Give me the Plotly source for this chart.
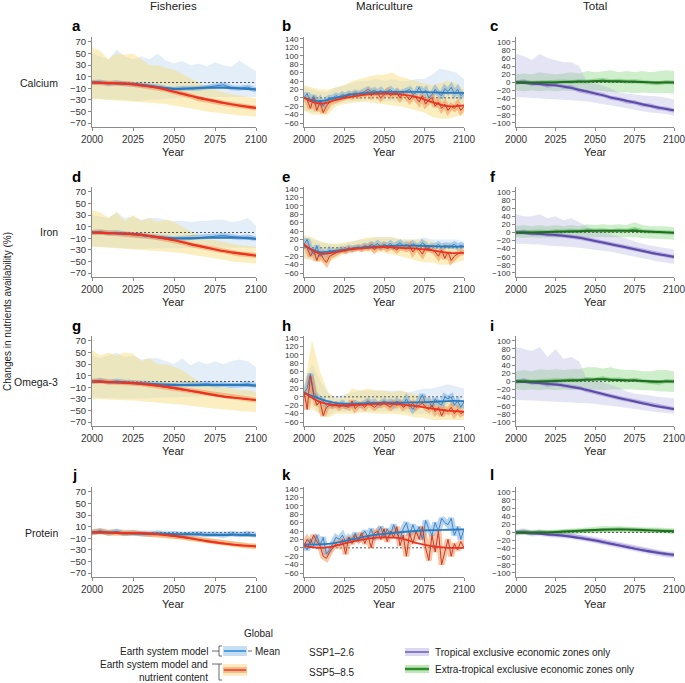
import plotly.graph_objects as go

W, H = 685, 683
FONT = "Liberation Sans, Arial, sans-serif"

YEARS_5 = list(range(2000, 2101, 5))
YEARS_10 = list(range(2000, 2101, 10))
YEARS_2 = list(range(2000, 2101, 2))

COL_TITLES = ["Fisheries", "Mariculture", "Total"]
ROW_LABELS = ["Calcium", "Iron", "Omega-3", "Protein"]
PANEL_LETTERS = ["a", "b", "c", "d", "e", "f", "g", "h", "i", "j", "k", "l"]
X_TICKS = [2000, 2025, 2050, 2075, 2100]
Y_TICKS = [list(range(-70, 71, 20)), list(range(-60, 141, 20)), list(range(-100, 101, 20))]
Y_TITLE = "Changes in nutrients availability (%)"

# ---------------- Fisheries (5-year annual samples, 10-year smooth) ----------------
A_S1_ANN = [0, 1, -2, 0, -2, -3, -3, -5, -7, -10, -12, -10, -11, -10, -8, -7, -4, -9, -10, -8, -13]
A_S1_SM = [0, -1, -2, -4, -8, -11, -10, -9, -9, -10, -12]
A_S2_ANN = [0, 0, -1, -2, -2, -3, -5, -7, -9, -12, -16, -19, -23, -28, -31, -33, -36, -38, -40, -42, -44]
A_S2_SM = [0, -1, -2, -5, -9, -16, -23, -29, -35, -40, -44]
A_S1_HI = [50, 45, 40, 57, 45, 40, 45, 40, 50, 38, 33, 37, 30, 33, 28, 35, 30, 27, 38, 28, 20]
A_S1_LO = [-28, -28, -30, -30, -30, -32, -32, -30, -30, -28, -28, -27, -26, -25, -25, -25, -25, -24, -24, -24, -25]
A_S2_HI = [60, 55, 40, 50, 48, 50, 40, 30, 30, 25, 22, 15, 8, 0, -8, -13, -17, -20, -23, -25, -27]
A_S2_LO = [-28, -29, -30, -31, -32, -32, -33, -34, -35, -37, -40, -42, -45, -47, -50, -52, -54, -55, -57, -58, -59]

D_S1_ANN = [0, 1, -1, 0, -2, -3, -4, -6, -8, -9, -11, -10, -10, -9, -8, -6, -5, -7, -9, -8, -11]
D_S1_SM = [0, -1, -2, -4, -8, -10, -10, -9, -9, -9, -11]
D_S2_ANN = [0, 1, -1, -2, -2, -3, -5, -7, -9, -11, -14, -17, -21, -24, -27, -30, -32, -35, -37, -38, -40]
D_S2_SM = [0, -1, -2, -4, -8, -13, -20, -26, -32, -36, -40]
D_S1_HI = [30, 28, 25, 35, 25, 28, 22, 25, 25, 22, 20, 20, 18, 20, 20, 22, 22, 18, 20, 25, 12]
D_S1_LO = [-24, -25, -26, -27, -27, -28, -28, -28, -28, -27, -27, -27, -27, -26, -26, -26, -26, -26, -26, -27, -27]
D_S2_HI = [38, 35, 25, 35, 20, 30, 20, 25, 18, 22, 18, 10, 2, -5, -10, -13, -17, -20, -22, -23, -25]
D_S2_LO = [-24, -25, -26, -27, -28, -29, -29, -30, -31, -32, -34, -36, -38, -40, -42, -45, -47, -50, -51, -53, -54]

G_S1_ANN = [0, 2, -1, 1, -1, -2, -3, -4, -5, -6, -7, -5, -6, -5, -4, -6, -5, -7, -6, -4, -7]
G_S1_SM = [0, -1, -2, -3, -5, -6, -6, -6, -6, -6, -7]
G_S2_ANN = [0, 1, -1, -1, -2, -3, -4, -6, -8, -10, -12, -14, -17, -19, -22, -24, -26, -28, -29, -31, -32]
G_S2_SM = [0, -1, -2, -4, -7, -11, -16, -21, -26, -29, -32]
G_S1_HI = [45, 40, 45, 50, 42, 45, 38, 40, 40, 35, 30, 40, 28, 35, 30, 35, 30, 35, 38, 35, 25]
G_S1_LO = [-28, -28, -29, -29, -30, -30, -30, -29, -28, -28, -27, -27, -27, -26, -26, -26, -25, -25, -25, -26, -26]
G_S2_HI = [55, 45, 50, 45, 50, 48, 35, 40, 30, 30, 25, 20, 10, 0, -5, -8, -10, -12, -15, -15, -18]
G_S2_LO = [-30, -30, -31, -32, -32, -33, -34, -35, -36, -37, -38, -40, -42, -44, -45, -47, -48, -50, -51, -52, -53]

J_S1_ANN = [0, 3, -1, 2, -2, 0, -2, -3, -1, -3, -2, -4, -3, -2, -4, -3, -5, -2, -4, -2, -5]
J_S1_SM = [0, 0, -1, -2, -2, -3, -3, -4, -4, -4, -5]
J_S2_ANN = [0, 2, -1, 0, -1, -1, -2, -2, -3, -5, -6, -8, -10, -12, -15, -17, -19, -21, -22, -23, -24]
J_S2_SM = [0, 0, -1, -1, -3, -6, -10, -15, -19, -22, -24]
J_S1_HI = [6, 8, 6, 7, 5, 5, 5, 5, 4, 3, 3, 3, 3, 3, 3, 3, 3, 3, 3, 3, 2]
J_S1_LO = [-5, -4, -5, -4, -6, -5, -6, -7, -6, -7, -7, -8, -7, -7, -8, -7, -8, -7, -8, -7, -8]
J_S2_HI = [6, 7, 5, 6, 4, 4, 2, 2, 1, 0, -2, -4, -6, -8, -10, -12, -14, -16, -17, -18, -19]
J_S2_LO = [-5, -4, -5, -5, -6, -6, -7, -7, -8, -10, -11, -13, -15, -17, -20, -22, -24, -26, -27, -28, -29]

# ---------------- Mariculture (2-year annual samples) ----------------
B_S1_ANN = [0, 10, -10, 5, -15, -5, -20, -5, 0, 0, 5, 2, 8, 5, 10, 8, 12, 10, 12, 15, 20, 15, 18, 12, 18, 10,
            15, 20, 12, 16, 10, 14, 18, 20, 8, 12, 25, 10, 18, 0, 8, 20, 10, 5, 22, 15, 25, 10, 20, 5, 12]
B_S2_ANN = [0, -5, -25, 0, -30, -10, -35, -20, -10, -8, -5, -3, 0, 2, 5, 3, 8, 5, 10, 8, 15, 5, 12, 10, 0, 8,
            15, 5, 10, 12, 0, 10, 5, -5, 5, 0, -10, 5, -15, -5, 0, -20, -10, -25, -15, -30, -20, -25, -15, -30, -20]
B_S1_SM = [0, -8, 0, 8, 12, 14, 14, 14, 13, 12, 12]
B_S2_SM = [0, -14, -5, 3, 8, 10, 8, 2, -10, -20, -18]
B_S1_HI = [25, 20, 15, 15, 25, 30, 35, 40, 40, 45, 40, 45, 40, 40, 45, 45, 55, 70, 65, 60, 45]
B_S1_LO = [-30, -35, -35, -30, -15, -10, -8, -8, -5, -5, -8, -8, -10, -10, -12, -15, -20, -25, -30, -30, -25]
B_S2_HI = [30, 25, 20, 20, 25, 30, 40, 45, 50, 55, 55, 60, 50, 45, 40, 35, 30, 35, 40, 35, 20]
B_S2_LO = [-30, -40, -40, -40, -20, -15, -12, -10, -10, -12, -15, -18, -20, -25, -30, -35, -45, -50, -50, -45, -40]

E_S1_ANN = [8, 20, -5, -15, 5, -20, -10, -15, -5, -10, -8, -5, -3, -5, 0, -2, 0, 2, 0, 5, 3, 8, 5, 10, 3, 8,
            5, 10, 3, 8, 12, 5, 8, 2, 10, 5, 3, 12, 5, 0, 5, 3, 8, 2, 6, 4, 5, 8, 2, 6, 3]
E_S2_ANN = [8, 0, -20, -5, -30, -10, -25, -35, -20, -15, -12, -8, -5, -8, -3, -5, -2, 0, -3, 2, 0, 5, -5, 3, 0, 5,
            -2, 3, 0, -5, 2, 0, -3, 5, -10, 0, -5, -15, 0, -2, -5, -10, -20, -5, -25, -10, -30, -20, -15, -10, -12]
E_S1_SM = [5, -10, -7, -2, 2, 4, 5, 5, 4, 3, 3]
E_S2_SM = [8, -14, -10, -3, 0, 2, 0, -2, -6, -12, -12]
E_S1_HI = [25, 20, 15, 10, 8, 10, 15, 20, 20, 25, 25, 25, 20, 20, 20, 25, 20, 20, 20, 20, 15]
E_S1_LO = [-25, -30, -30, -30, -20, -12, -8, -5, -5, -5, -5, -5, -5, -8, -8, -10, -12, -15, -15, -15, -15]
E_S2_HI = [30, 25, 15, 10, 10, 12, 15, 20, 25, 25, 25, 25, 20, 20, 20, 20, 15, 10, 10, 5, 0]
E_S2_LO = [-25, -30, -35, -35, -25, -15, -10, -8, -10, -10, -12, -15, -20, -25, -30, -35, -35, -40, -40, -35, -30]

H_S1_ANN = [10, 20, 55, 10, 0, -5, -10, -20, -15, -20, -18, -20, -15, -22, -18, -20, -15, -18, -20, -15, -10, -15,
            -12, -20, -15, -10, -15, -12, -20, -10, -15, -18, -5, -20, -30, -20, -10, 5, -15, -10, -25, -5, -15,
            -20, 0, -5, 0, -20, -10, -25, -12]
H_S2_ANN = [12, -30, 50, 5, -20, -10, -45, -25, -20, -22, -18, -25, -20, -22, -25, -10, -28, -20, -18, -25, -15,
            -20, -25, -18, -20, -15, -20, -25, -15, -20, -15, -25, -20, -22, -15, -25, -20, -15, -25, -30, -20, -35,
            -25, -45, -30, -35, -25, -40, -30, -40, -35]
H_S1_SM = [10, -5, -15, -17, -15, -14, -14, -13, -12, -10, -10]
H_S2_SM = [10, -12, -20, -20, -18, -16, -18, -22, -28, -33, -35]
H_S1_HI = [30, 80, 40, 10, 0, 5, 10, 15, 15, 15, 15, 15, 15, 10, 15, 20, 20, 25, 30, 25, 20]
H_S1_LO = [-10, -20, -40, -45, -35, -35, -35, -35, -35, -35, -35, -35, -35, -38, -40, -40, -45, -45, -45, -45, -45]
H_S2_HI = [20, 135, 60, 10, -5, 0, 20, 15, 20, 15, 15, 10, 15, 10, 5, 0, -5, -10, -5, -10, -15]
H_S2_LO = [-10, -30, -40, -50, -40, -40, -40, -38, -38, -40, -40, -40, -42, -45, -50, -50, -55, -55, -55, -55, -55]

K_S1_ANN = [10, -5, 20, 5, 30, 5, 25, -15, -5, 10, 25, 20, 30, 15, 25, 20, 35, 15, 30, 40, 25, 45, 20, 35, 50,
            25, 45, 30, 55, 35, 20, 45, 60, 30, 55, 35, 50, 20, 65, 45, 30, 60, 40, 70, 60, 55, 70, 30, 50, 20, 45]
K_S2_ANN = [5, 20, 10, 30, 15, 5, -20, -25, -10, 0, 10, 5, 20, -15, 25, 10, 30, 20, 35, 10, 30, 0, 35, 40, 20,
            45, 15, 40, 25, 50, 5, 30, -20, 35, 10, 40, 20, 50, 0, -30, 30, -10, 40, -40, -10, 20, -20, 10, -5, 15, 0]
K_S1_SM = [8, 8, 12, 20, 28, 33, 37, 40, 42, 43, 44]
K_S2_SM = [5, 0, 5, 15, 22, 25, 23, 12, 4, 0, 0]

# ---------------- Total (tropical = S1 purple, extra-tropical = S2 green) ----------------
C_S1_ANN = [0, 3, -4, -2, -8, -5, -11, -12, -20, -23, -28, -31, -38, -41, -47, -49, -55, -57, -63, -65, -70]
C_S1_SM = [0, -3, -6, -10, -18, -27, -37, -45, -54, -62, -69]
C_S2_ANN = [0, 1, -1, 0, 1, 0, 2, 1, 3, 2, 4, 6, 3, 4, 2, 3, 1, -1, -2, 1, 0]
C_S2_SM = [0, 0, 0, 1, 2, 3, 3, 2, 1, 0, 0]
C_S1_HI = [70, 65, 55, 70, 60, 55, 50, 50, 40, 0, -3, -8, -15, -25, -28, -30, -32, -33, -35, -38, -42]
C_S1_LO = [-36, -37, -38, -39, -40, -42, -43, -44, -45, -47, -50, -53, -56, -60, -64, -68, -71, -74, -76, -78, -82]
C_S2_HI = [20, 22, 20, 25, 22, 20, 22, 25, 22, 28, 25, 28, 30, 25, 28, 25, 28, 25, 28, 30, 28]
C_S2_LO = [-20, -22, -20, -22, -20, -22, -20, -22, -20, -22, -20, -22, -24, -25, -24, -26, -25, -26, -27, -26, -28]

F_S1_ANN = [0, 2, -3, -2, -6, -5, -8, -10, -13, -17, -21, -25, -29, -33, -37, -41, -46, -50, -54, -57, -61]
F_S1_SM = [0, -3, -5, -8, -13, -21, -29, -37, -46, -54, -60]
F_S2_ANN = [0, 1, 0, 2, 1, 3, 2, 4, 3, 6, 4, 5, 3, 5, 4, 8, 3, 2, 1, 0, -1]
F_S2_SM = [0, 0, 1, 2, 3, 4, 4, 4, 3, 1, -1]
F_S1_HI = [45, 40, 40, 45, 35, 40, 30, 35, 25, 15, 5, 0, -5, -10, -15, -22, -28, -32, -35, -38, -42]
F_S1_LO = [-28, -28, -30, -30, -32, -33, -35, -36, -38, -40, -42, -45, -48, -52, -56, -60, -65, -68, -72, -75, -78]
F_S2_HI = [15, 18, 15, 18, 15, 18, 15, 18, 15, 20, 18, 20, 18, 20, 18, 25, 18, 15, 15, 15, 12]
F_S2_LO = [-12, -14, -12, -14, -12, -14, -12, -14, -12, -12, -12, -12, -12, -12, -12, -12, -14, -15, -16, -17, -18]

I_S1_ANN = [0, 3, -3, -2, -8, -6, -10, -13, -16, -22, -26, -31, -36, -41, -45, -50, -54, -58, -62, -65, -68]
I_S1_SM = [0, -3, -6, -10, -17, -26, -36, -45, -54, -62, -68]
I_S2_ANN = [0, 1, -1, 1, 2, 3, 2, 4, 3, 6, 5, 8, 4, 5, 2, 4, 1, -2, -3, 1, 0]
I_S2_SM = [0, 0, 0, 2, 3, 5, 4, 3, 1, 0, 0]
I_S1_HI = [85, 80, 75, 85, 60, 80, 55, 60, 50, 5, 0, -3, -8, -15, -25, -30, -32, -35, -38, -40, -42]
I_S1_LO = [-45, -46, -47, -48, -48, -50, -50, -52, -52, -54, -55, -58, -60, -63, -65, -68, -71, -74, -76, -78, -80]
I_S2_HI = [25, 28, 25, 30, 28, 30, 28, 30, 30, 35, 35, 32, 35, 30, 28, 28, 25, 25, 28, 28, 25]
I_S2_LO = [-20, -22, -20, -22, -20, -22, -20, -22, -20, -20, -20, -22, -20, -20, -20, -20, -22, -22, -24, -25, -26]

L_S1_ANN = [0, 2, -2, -1, -4, -5, -7, -9, -12, -16, -19, -23, -27, -32, -36, -40, -44, -48, -51, -54, -56]
L_S1_SM = [0, -2, -5, -8, -14, -20, -28, -36, -44, -50, -55]
L_S2_ANN = [0, 1, -1, 1, 0, 1, 2, 3, 4, 5, 6, 8, 7, 8, 7, 6, 6, 5, 5, 4, 3]
L_S2_SM = [0, 0, 0, 2, 4, 6, 7, 7, 6, 4, 3]
L_S1_HI = [8, 10, 6, 7, 4, 3, 1, -1, -4, -8, -11, -15, -19, -24, -28, -32, -36, -40, -43, -46, -48]
L_S1_LO = [-8, -6, -10, -9, -12, -13, -15, -17, -20, -24, -27, -31, -35, -40, -44, -48, -52, -56, -59, -62, -64]
L_S2_HI = [6, 7, 5, 7, 6, 7, 8, 9, 10, 12, 14, 16, 15, 16, 14, 13, 13, 12, 12, 11, 10]
L_S2_LO = [-6, -5, -7, -5, -6, -5, -4, -3, -2, -2, -2, 0, -1, 0, 0, -1, -1, -2, -2, -3, -4]

# ---------------- styles ----------------
STY = {
    "fish": dict(b1="rgba(190,214,240,0.42)", b2="rgba(246,220,120,0.45)",
                 i1="rgba(100,160,220,0.45)", i2="rgba(245,140,70,0.50)",
                 a1="#3b87c9", a2="#d8402e", s1="#2b7bc0", s2="#ec3323", iw=5, sw=2.2, band_order=(1, 2)),
    "mari": dict(b1="rgba(190,214,240,0.42)", b2="rgba(246,220,120,0.45)",
                 i1="rgba(100,160,220,0.45)", i2="rgba(245,140,70,0.50)",
                 a1="#3b87c9", a2="#c9362f", s1="#2b7bc0", s2="#ec3323", iw=6, sw=1.8, band_order=(1, 2)),
    "total": dict(b1="rgba(175,170,222,0.32)", b2="rgba(140,215,130,0.42)",
                  i1="rgba(125,110,200,0.45)", i2="rgba(70,170,70,0.40)",
                  a1="#7a68c0", a2="#3a9a3a", s1="#5e4aa8", s2="#1f6e1f", iw=4, sw=2.0, band_order=(2, 1)),
}

PANELS = [
    # (kind, annual x, s1 ann, s2 ann, s1 smooth, s2 smooth, s1 lo, s1 hi, s2 lo, s2 hi)
    ("fish", YEARS_5, A_S1_ANN, A_S2_ANN, A_S1_SM, A_S2_SM, A_S1_LO, A_S1_HI, A_S2_LO, A_S2_HI),
    ("mari", YEARS_2, B_S1_ANN, B_S2_ANN, B_S1_SM, B_S2_SM, B_S1_LO, B_S1_HI, B_S2_LO, B_S2_HI),
    ("total", YEARS_5, C_S1_ANN, C_S2_ANN, C_S1_SM, C_S2_SM, C_S1_LO, C_S1_HI, C_S2_LO, C_S2_HI),
    ("fish", YEARS_5, D_S1_ANN, D_S2_ANN, D_S1_SM, D_S2_SM, D_S1_LO, D_S1_HI, D_S2_LO, D_S2_HI),
    ("mari", YEARS_2, E_S1_ANN, E_S2_ANN, E_S1_SM, E_S2_SM, E_S1_LO, E_S1_HI, E_S2_LO, E_S2_HI),
    ("total", YEARS_5, F_S1_ANN, F_S2_ANN, F_S1_SM, F_S2_SM, F_S1_LO, F_S1_HI, F_S2_LO, F_S2_HI),
    ("fish", YEARS_5, G_S1_ANN, G_S2_ANN, G_S1_SM, G_S2_SM, G_S1_LO, G_S1_HI, G_S2_LO, G_S2_HI),
    ("mari", YEARS_2, H_S1_ANN, H_S2_ANN, H_S1_SM, H_S2_SM, H_S1_LO, H_S1_HI, H_S2_LO, H_S2_HI),
    ("total", YEARS_5, I_S1_ANN, I_S2_ANN, I_S1_SM, I_S2_SM, I_S1_LO, I_S1_HI, I_S2_LO, I_S2_HI),
    ("fish", YEARS_5, J_S1_ANN, J_S2_ANN, J_S1_SM, J_S2_SM, J_S1_LO, J_S1_HI, J_S2_LO, J_S2_HI),
    ("mari", YEARS_2, K_S1_ANN, K_S2_ANN, K_S1_SM, K_S2_SM, None, None, None, None),
    ("total", YEARS_5, L_S1_ANN, L_S2_ANN, L_S1_SM, L_S2_SM, L_S1_LO, L_S1_HI, L_S2_LO, L_S2_HI),
]

# ---------------- geometry (pixels) ----------------
COL_X = [(92, 256), (304, 464), (516, 674)]
ROW_OFF = [0, 150, 299, 450]
PLOT_TOP, PLOT_BOT = 37, 127
Y_RANGES = [(-76.9, 78.6), (-69.4, 144.7), (-110, 112)]
Y_TICK_SIZE = [9.5, 8, 8]


def fx(p):
    return p / W


def fy(p):
    return 1 - p / H


fig = go.Figure()
layout = dict(width=W, height=H, margin=dict(l=0, r=0, t=0, b=0, autoexpand=False),
              paper_bgcolor="white", plot_bgcolor="white", showlegend=False,
              font=dict(family=FONT, color="#222"))

for idx, (kind, xa, s1a, s2a, s1s, s2s, s1lo, s1hi, s2lo, s2hi) in enumerate(PANELS):
    r, c = divmod(idx, 3)
    n = idx + 1
    xk = "xaxis" if n == 1 else f"xaxis{n}"
    yk = "yaxis" if n == 1 else f"yaxis{n}"
    xr = "x" if n == 1 else f"x{n}"
    yr = "y" if n == 1 else f"y{n}"
    top = PLOT_TOP + ROW_OFF[r]
    bot = PLOT_BOT + ROW_OFF[r]
    layout[xk] = dict(domain=[fx(COL_X[c][0]), fx(COL_X[c][1])], anchor=yr, automargin=False,
                      range=[X_TICKS[0], X_TICKS[-1]], tickvals=X_TICKS, ticklabeloverflow="allow",
                      ticks="outside", ticklen=3, tickcolor="#8a8a8a", showline=True,
                      linecolor="#8a8a8a", linewidth=1, showgrid=False, zeroline=False,
                      tickfont=dict(size=10, color="#333", family=FONT))
    layout[yk] = dict(domain=[fy(bot), fy(top)], anchor=xr, range=list(Y_RANGES[c]), automargin=False,
                      tickvals=Y_TICKS[c], ticks="outside", ticklen=3, tickcolor="#8a8a8a",
                      ticklabeloverflow="allow",
                      showline=True, linecolor="#8a8a8a", linewidth=1, showgrid=False,
                      zeroline=False, tickfont=dict(size=Y_TICK_SIZE[c], color="#333", family=FONT))
    st = STY[kind]
    common = dict(xaxis=xr, yaxis=yr, hoverinfo="skip", showlegend=False)

    def band(lo, hi, color):
        fig.add_trace(go.Scatter(x=YEARS_5, y=lo, mode="lines", line=dict(width=0), **common))
        fig.add_trace(go.Scatter(x=YEARS_5, y=hi, mode="lines", line=dict(width=0),
                                 fill="tonexty", fillcolor=color, **common))

    if s1lo is not None:
        bands = {1: (s1lo, s1hi, st["b1"]), 2: (s2lo, s2hi, st["b2"])}
        for k in st["band_order"]:
            band(*bands[k])
    # zero reference line
    fig.add_trace(go.Scatter(x=[X_TICKS[0], X_TICKS[-1]], y=[0, 0], mode="lines",
                             line=dict(color="#555", width=1, dash="2px,2px"), **common))
    # model-range envelopes around the annual means
    fig.add_trace(go.Scatter(x=xa, y=s1a, mode="lines", line=dict(color=st["i1"], width=st["iw"]), **common))
    fig.add_trace(go.Scatter(x=xa, y=s2a, mode="lines", line=dict(color=st["i2"], width=st["iw"]), **common))
    # annual means
    fig.add_trace(go.Scatter(x=xa, y=s1a, mode="lines", line=dict(color=st["a1"], width=1), **common))
    fig.add_trace(go.Scatter(x=xa, y=s2a, mode="lines", line=dict(color=st["a2"], width=1), **common))
    # smoothed trends
    fig.add_trace(go.Scatter(x=YEARS_10, y=s1s, mode="lines",
                             line=dict(color=st["s1"], width=st["sw"], shape="spline", smoothing=1.0), **common))
    fig.add_trace(go.Scatter(x=YEARS_10, y=s2s, mode="lines",
                             line=dict(color=st["s2"], width=st["sw"], shape="spline", smoothing=1.0), **common))

annotations = []
shapes = []


def text(x, y, s, size=10.5, anchor="center", color="#222", bold=False, angle=0):
    annotations.append(dict(x=fx(x), y=fy(y), xref="paper", yref="paper", text=f"<b>{s}</b>" if bold else s,
                            showarrow=False, xanchor=anchor, yanchor="middle", textangle=angle,
                            font=dict(size=size, color=color, family=FONT)))


# column titles
for c, t in enumerate(COL_TITLES):
    text((COL_X[c][0] + COL_X[c][1]) / 2, 6, t, size=11.5)
# panel letters
LETTER_X = [70, 280, 488]
LETTER_Y = [25, 176, 325, 474]
for idx, letter in enumerate(PANEL_LETTERS):
    r, c = divmod(idx, 3)
    text(LETTER_X[c], LETTER_Y[r], letter, size=15, anchor="left", color="#000", bold=True)
# row labels
for r, lab in enumerate(ROW_LABELS):
    text(60, 82.5 + ROW_OFF[r], lab, size=10.5, anchor="right")
# x titles
for r in range(4):
    for c in range(3):
        text((COL_X[c][0] + COL_X[c][1]) / 2, 152 + ROW_OFF[r] + (2 if r == 3 else 0), "Year", size=11)
# y title
text(7, 312, Y_TITLE, size=10, angle=-90)

# ---------------- legend ----------------
text(258, 633, "Global", size=10)
text(210, 651, "Earth system model", size=10, anchor="right")
text(210, 664, "Earth system model and", size=10, anchor="right")
text(210, 677, "nutrient content", size=10, anchor="right")
text(253, 651, "Mean", size=10, anchor="left")
text(307, 652, "SSP1\u20132.6", size=10, anchor="left")
text(307, 672, "SSP5\u20138.5", size=10, anchor="left")
text(433, 652, "Tropical exclusive economic zones only", size=10, anchor="left")
text(433, 669, "Extra-tropical exclusive economic zones only", size=10, anchor="left")


def seg(x0, y0, x1, y1, color="#444", width=0.8):
    shapes.append(dict(type="line", xref="paper", yref="paper", x0=fx(x0), y0=fy(y0), x1=fx(x1), y1=fy(y1),
                       line=dict(color=color, width=width)))


def rect(x0, y0, x1, y1, color):
    shapes.append(dict(type="rect", xref="paper", yref="paper", x0=fx(x0), y0=fy(y0), x1=fx(x1), y1=fy(y1),
                       fillcolor=color, line=dict(width=0)))


# ESM bracket + blue swatch
seg(212, 651, 219, 651)
seg(219, 646, 219, 656)
seg(219, 646, 222, 646)
seg(219, 656, 222, 656)
rect(223, 646, 247, 656, "#c9ddf2")
seg(224, 651, 246, 651, "#2a8fd8", 1.6)
seg(248, 651, 252, 651)
# ESM + nutrient bracket + orange swatch
seg(212, 664, 219, 664)
seg(219, 664, 219, 680)
seg(219, 664, 222, 664)
seg(219, 680, 222, 680)
rect(223, 664, 247, 676, "#fdebc2")
rect(223, 667, 247, 673, "#f8bb8c")
seg(224, 670, 246, 670, "#e8452e", 1.6)
# purple / green swatches
rect(405, 648, 429, 656, "#dcd8f0")
seg(405, 652, 429, 652, "#6b5bb5", 1.5)
rect(405, 665, 429, 673, "#bfe8b6")
seg(405, 669, 429, 669, "#2e8b2e", 2.5)

layout["annotations"] = annotations
layout["shapes"] = shapes
fig.update_layout(**layout)
fig.write_html("out.html", config={"displayModeBar": False, "staticPlot": True},
               post_script="document.body.style.margin='0';document.body.style.overflow='hidden';")
